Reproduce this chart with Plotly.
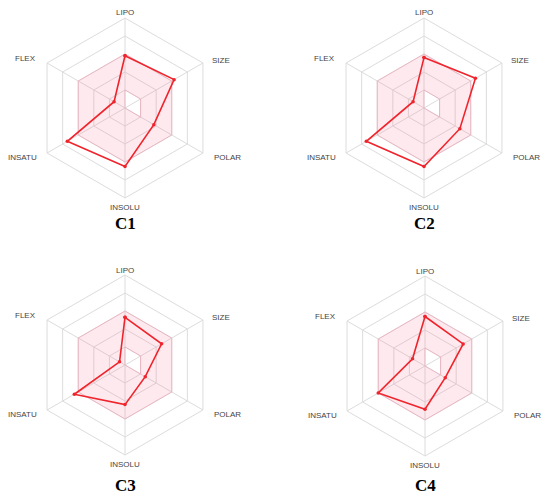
import plotly.graph_objects as go

# bioavailability radar, one panel per compound
axes = ["LIPO", "SIZE", "POLAR", "INSOLU", "INSATU", "FLEX"]
compounds = ["C1", "C2", "C3", "C4"]
c1 = [2.9, 3.15, 1.85, 3.25, 3.7, 0.7]
c2 = [2.8, 3.3, 2.3, 3.25, 3.7, 0.7]
c3 = [2.65, 2.35, 1.3, 2.2, 3.25, 0.35]
c4 = [2.75, 2.45, 1.3, 2.4, 3.0, 0.8]
band_max = [3, 3, 3, 3, 3, 3]
band_min = [1, 1, 1, 0, 0, 0]
grid_levels = [1, 2, 3, 4, 5]

values = [c1, c2, c3, c4]

# the page body adds an 8px margin top/left, so shrink the figure by that
OFF = 8
W, H, R = 550 - OFF, 496 - OFF, 90
# panel centres and title heights in window px
centres = [(125, 108), (424, 108), (125, 365), (425, 366)]
title_y = [223, 223, 485, 485]
# axis label offsets from panel centre (dx, dy, xanchor)
label_pos = [(0, -95, "center"), (85, -48, "left"), (87, 49, "left"),
             (0, 99, "center"), (-86, 49, "right"), (-87, -50, "right")]

fig = go.Figure()


def to_paper(px, py):
    return (px - OFF) / W, 1 - (py - OFF) / H


for i, (name, vals) in enumerate(zip(compounds, values)):
    pid = "polar" if i == 0 else f"polar{i+1}"
    # pink optimal band: outer ring then inner ring reversed
    th_out = axes + [axes[0]]
    r_out = band_max + [band_max[0]]
    th_in = [axes[0]] + axes[::-1]
    r_in = [band_min[0]] + band_min[::-1]
    fig.add_trace(go.Scatterpolar(
        r=r_out + r_in, theta=th_out + th_in, mode="lines",
        fill="toself", fillcolor="rgba(245,120,150,0.16)",
        line=dict(width=0), subplot=pid, hoverinfo="skip", showlegend=False,
    ))
    for ring in (band_max, band_min):
        fig.add_trace(go.Scatterpolar(
            r=ring + [ring[0]], theta=th_out, mode="lines",
            line=dict(color="rgba(240,160,180,0.55)", width=1),
            subplot=pid, hoverinfo="skip", showlegend=False,
        ))
    fig.add_trace(go.Scatterpolar(
        r=vals + [vals[0]], theta=th_out, mode="lines+markers",
        line=dict(color="#f0242c", width=1.6),
        marker=dict(color="#f0242c", size=3.5),
        subplot=pid, name=name, showlegend=False,
    ))

    cx, cy = centres[i]
    x0, y0 = to_paper(cx - R, cy + R)
    x1, y1 = to_paper(cx + R, cy - R)
    polar = dict(
        domain=dict(x=[x0, x1], y=[y0, y1]),
        gridshape="linear",
        bgcolor="white",
        radialaxis=dict(range=[0, 5], tickvals=grid_levels, showticklabels=False,
                        showline=False, ticks="", gridcolor="#dcdcdc", gridwidth=1),
        angularaxis=dict(categoryorder="array", categoryarray=axes,
                         direction="clockwise", rotation=90, showticklabels=False,
                         ticks="", gridcolor="#dcdcdc", linecolor="#dcdcdc",
                         linewidth=1),
    )
    fig.update_layout(**{pid: polar})

    # axis names
    for lab, (dx, dy, anc) in zip(axes, label_pos):
        lx, ly = to_paper(cx + dx, cy + dy)
        fig.add_annotation(
            x=lx, y=ly, xref="paper", yref="paper", xanchor=anc, yanchor="middle",
            text=lab, showarrow=False,
            font=dict(family="Liberation Sans", size=8, color="#444"),
        )

    tx, ty = to_paper(cx, title_y[i])
    fig.add_annotation(
        x=tx, y=ty, xref="paper", yref="paper",
        xanchor="center", yanchor="middle",
        text=f"<b>{name}</b>", showarrow=False,
        font=dict(family="Liberation Serif", size=17, color="black"),
    )

fig.update_layout(
    width=W, height=H,
    margin=dict(l=0, r=0, t=0, b=0),
    paper_bgcolor="white",
    showlegend=False,
)

fig.write_html("out.html")
